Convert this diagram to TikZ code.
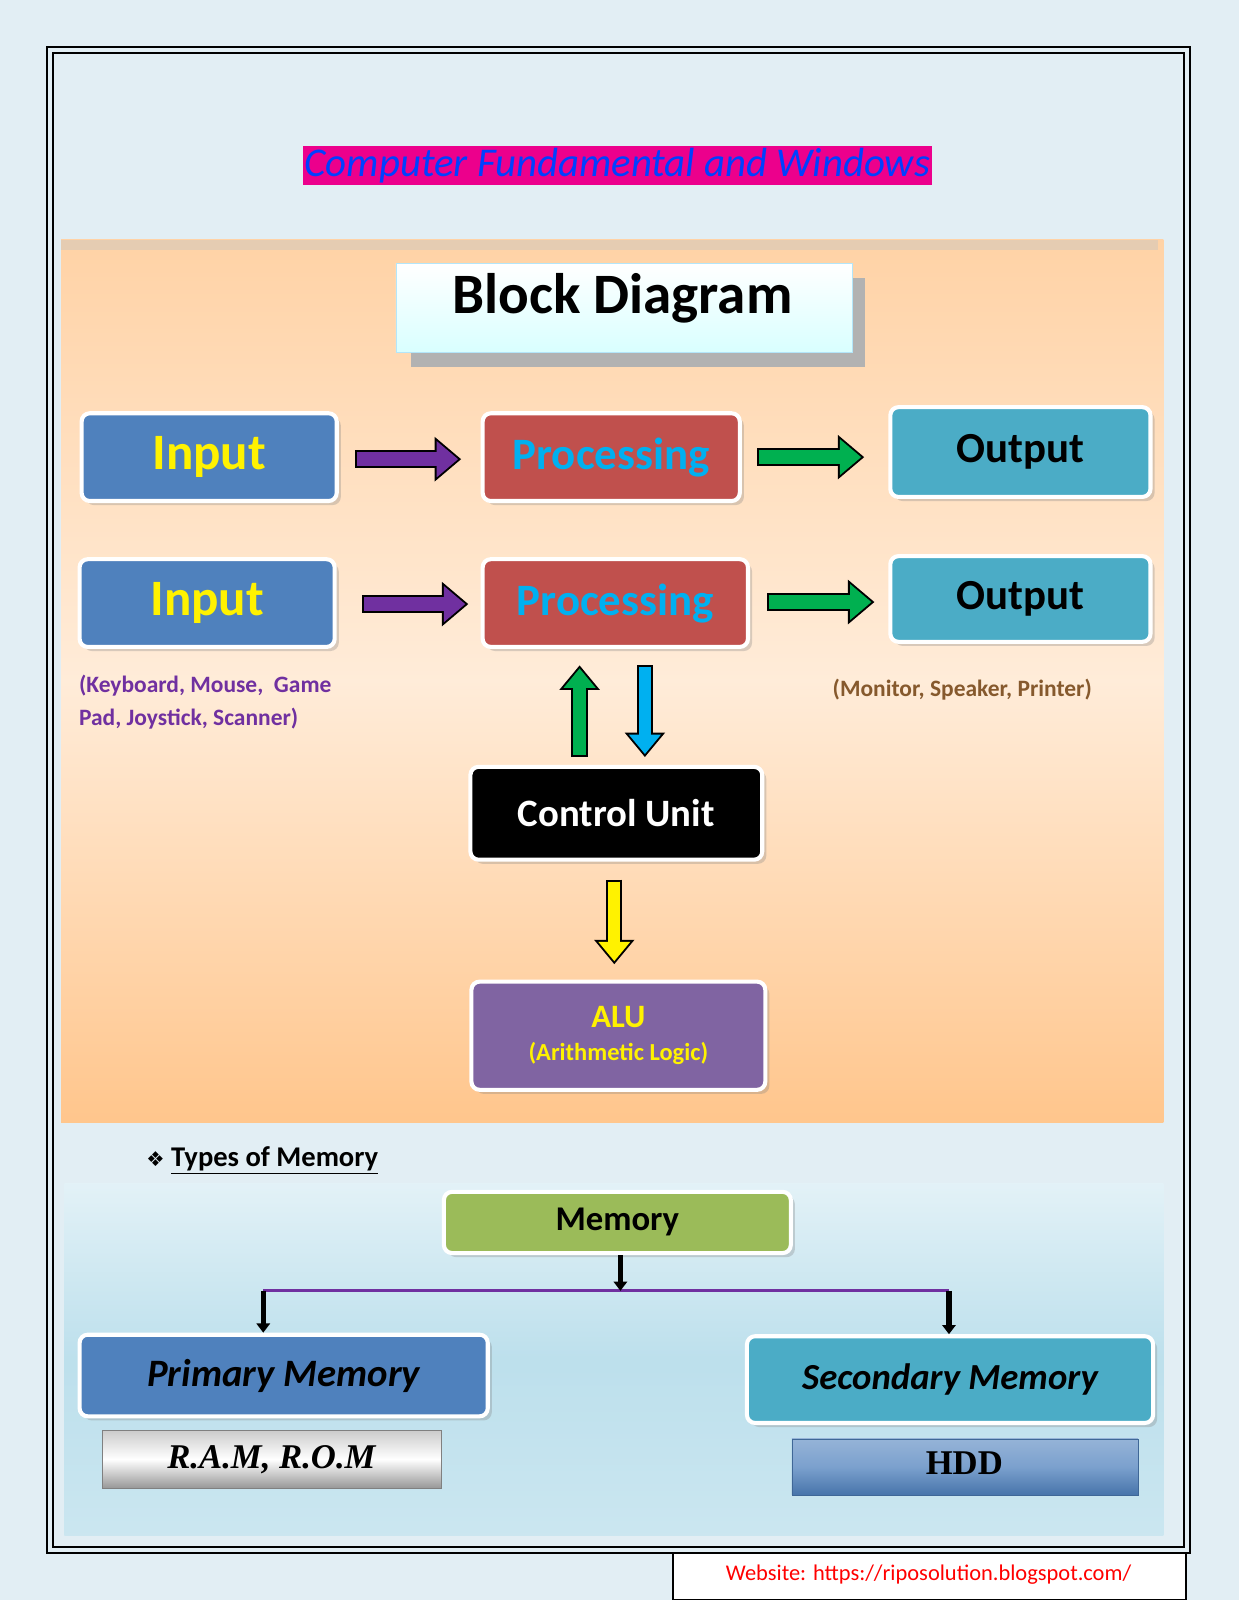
\documentclass[tikz,border=0pt]{standalone}
\usepackage{fontspec}
\setmainfont{Carlito}
\newfontfamily\djv{DejaVu Sans}
\usetikzlibrary{arrows.meta,shadows}
\definecolor{bgb}{RGB}{226,238,244}
\definecolor{inb}{RGB}{79,129,189}
\definecolor{prr}{RGB}{192,80,77}
\definecolor{tea}{RGB}{75,172,198}
\definecolor{alu}{RGB}{128,100,162}
\definecolor{mem}{RGB}{155,187,89}
\definecolor{pur}{RGB}{112,48,160}
\definecolor{grn}{RGB}{0,176,80}
\definecolor{cyn}{RGB}{0,176,240}
\definecolor{cap}{RGB}{112,48,160}
\definecolor{pnl}{RGB}{160,210,228}
\begin{document}
\begin{tikzpicture}[x=1pt,y=-1pt,
 box/.style={draw=white,line width=4pt,rounded corners=8pt,drop shadow={shadow xshift=4pt,shadow yshift=-4pt,opacity=.3}},
 btxt/.style={font=\bfseries\fontsize{50}{54}\selectfont}]
\useasboundingbox (0,0) rectangle (1214,1568);
\fill[bgb] (0,0) rectangle (1214,1568);
\draw[line width=2pt] (46,46) rectangle (1166,1522);
\draw[line width=2pt] (52,52) rectangle (1160,1516);
\node[fill=magenta,text=blue!75!cyan,inner sep=2pt,font=\itshape\fontsize{40}{44}\selectfont] (title) at (605,162) {Computer Fundamental and Windows};
% orange panel
\shade[top color=orange!35,bottom color=orange!45,middle color=orange!15] (60,235) rectangle (1140,1100);
\fill[brown!40] (60,235) rectangle (1135,245);
% block diagram
\fill[gray!60] (403,272) rectangle (848,360);
\shade[top color=white,bottom color=cyan!15,draw=cyan!30] (388,258) rectangle (835,345);
\node[font=\bfseries\fontsize{56}{60}\selectfont] (bd) at (610,292) {Block Diagram};
% row boxes
\node[box,fill=inb,text=yellow,btxt,minimum width=250pt,minimum height=86pt] (in1) at (205,448) {Input};
\node[box,fill=inb,text=yellow,btxt,minimum width=250pt,minimum height=86pt] (in2) at (203,591) {Input};
\node[box,fill=prr,text=cyn,font=\bfseries\fontsize{44}{48}\selectfont,minimum width=252pt,minimum height=86pt] (pr1) at (599,448) {Processing};
\node[box,fill=prr,text=cyn,font=\bfseries\fontsize{44}{48}\selectfont,minimum width=260pt,minimum height=86pt] (pr2) at (603,591) {Processing};
\node[box,fill=tea,font=\bfseries\fontsize{42}{46}\selectfont,minimum width=255pt,minimum height=88pt] (ou1) at (1000,443) {Output};
\node[box,fill=tea,font=\bfseries\fontsize{42}{46}\selectfont,minimum width=255pt,minimum height=84pt] (ou2) at (1000,587) {Output};
\coordinate (a1) at (348,450); \coordinate (b1) at (452,450);
\coordinate (a2) at (355,592); \coordinate (b2) at (459,592);
\coordinate (c1) at (742,448); \coordinate (d1) at (847,448);
\coordinate (c2) at (752,590); \coordinate (d2) at (857,590);
\tikzset{hb/.style={line width=18pt,-{Triangle[length=26pt,width=42pt]}},
 hc/.style={draw=#1,line width=14pt,-{Triangle[length=21pt,width=34pt]},shorten >=3pt,shorten <=2pt}}
\foreach \s/\e/\c in {a1/b1/pur,a2/b2/pur,c1/d1/grn,c2/d2/grn}{
 \draw[hb] (\s) -- (\e);
 \draw[hc=\c] (\s) -- (\e);}
\node[text=cap,align=left,anchor=north west,font=\bfseries\fontsize{23}{32}\selectfont] (kb) at (74,658) {(Keyboard, Mouse,\ \ Game\\Pad, Joystick,\ Scanner)};
\node[text=brown!70!black,font=\bfseries\fontsize{23}{26}\selectfont] (mon) at (943,676) {(Monitor,\ Speaker, Printer)};
% control unit
\node[box,fill=black,text=white,font=\bfseries\fontsize{38}{42}\selectfont,minimum width=286pt,minimum height=91pt] (cu) at (604,797) {Control Unit};
\coordinate (u1) at (568,742); \coordinate (u2) at (568,652);
\coordinate (v1) at (632,652); \coordinate (v2) at (632,742);
\coordinate (y1) at (602,862); \coordinate (y2) at (602,945);
\foreach \s/\e/\c in {u1/u2/grn,v1/v2/cyn,y1/y2/yellow}{
 \draw[line width=16pt,-{Triangle[length=24pt,width=38pt]}] (\s) -- (\e);
 \draw[draw=\c,line width=12pt,-{Triangle[length=19pt,width=30pt]},shorten >=3pt,shorten <=2pt] (\s) -- (\e);}
\node[box,fill=alu,text=yellow,align=center,minimum width=288pt,minimum height=106pt,font=\bfseries\fontsize{32}{36}\selectfont] (alu) at (606,1015) {ALU\\[-4pt]{\fontsize{24}{28}\selectfont(Arithmetic Logic)}};
% memory section
\node[anchor=west,font=\bfseries\fontsize{28}{32}\selectfont] (tm) at (140,1137) {{\djv\fontsize{20}{24}\selectfont ❖}\ \underline{Types of Memory}};
\shade[top color=pnl!30,bottom color=pnl!55,middle color=pnl!70] (63,1160) rectangle (1140,1505);
\node[box,fill=mem,font=\bfseries\fontsize{34}{38}\selectfont,minimum width=340pt,minimum height=60pt] (m) at (605,1198) {Memory};
\node[box,fill=inb,font=\bfseries\itshape\fontsize{38}{42}\selectfont,minimum width=400pt,minimum height=80pt] (pm) at (278,1348) {Primary Memory};
\node[box,fill=tea,font=\bfseries\itshape\fontsize{36}{40}\selectfont,minimum width=398pt,minimum height=85pt] (sm) at (931,1352) {Secondary Memory};
\coordinate (j) at (608,1265); \coordinate (jl) at (258,1265); \coordinate (jr) at (930,1265);
\draw[pur,line width=3pt] (jl)--(jr);
\draw[line width=5pt,-{Triangle[length=9pt,width=13pt]}] (m.south -| j) -- (j);
\draw[line width=5pt,-{Triangle[length=9pt,width=13pt]}] (jl) -- (pm.north -| jl);
\draw[line width=5pt,-{Triangle[length=9pt,width=13pt]}] (jr) -- (sm.north -| jr);
\shade[top color=gray!40,bottom color=gray!80,middle color=white,draw=gray] (100,1402) rectangle (432,1458);
\node[font=\bfseries\itshape\fontsize{34}{38}\selectfont,text=black] (ram) at (266,1430) {\fontspec{Liberation Serif}R.A.M, R.O.M};
\shade[top color=inb!60,bottom color=inb!90!black,middle color=inb!75,draw=inb!80!black] (776,1410) rectangle (1115,1465);
\node[font=\bfseries\fontsize{34}{38}\selectfont] (hdd) at (945,1434) {\fontspec{Liberation Serif}HDD};
% website
\draw[line width=2pt,fill=white] (660,1522) rectangle (1162,1568);
\node[text=red,font=\fontsize{22}{26}\selectfont] (web) at (910,1543) {Website: https://riposolution.blogspot.com/};
\end{tikzpicture}
\end{document}
